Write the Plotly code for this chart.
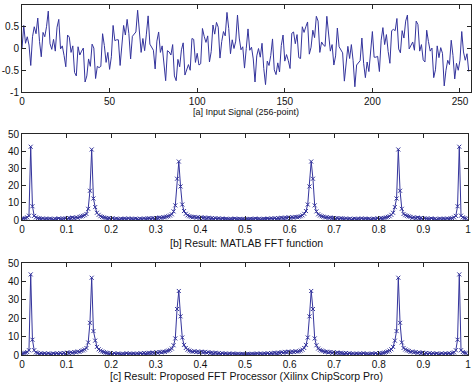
import plotly.graph_objects as go

# ---------------- data ----------------
signal = [
    0.00, 0.53, 0.12, 0.27, 0.08, -0.39, 0.27, 0.50, 0.34, 0.70,
    0.16, -0.19, 0.37, 0.27, 0.50, 0.86, 0.11, -0.02, 0.21, -0.06,
    0.49, 0.67, -0.01, 0.06, -0.16, -0.42, 0.31, 0.26, -0.09, 0.06,
    -0.55, -0.63, 0.04, -0.15, -0.06, 0.01, -0.77, -0.63, -0.24, -0.41,
    0.10, 0.01, -0.69, -0.41, -0.44, -0.41, 0.34, 0.07, -0.32, -0.09,
    -0.48, -0.19, 0.53, 0.18, 0.20, 0.20, -0.39, 0.11, 0.53, 0.31,
    0.67, 0.34, -0.24, 0.28, 0.33, 0.38, 0.88, 0.28, -0.09, 0.23,
    -0.05, 0.33, 0.75, 0.10, 0.02, -0.04, -0.47, 0.17, 0.38, -0.09,
    0.06, -0.39, -0.74, -0.05, -0.08, -0.15, 0.09, -0.63, -0.74, -0.25,
    -0.42, -0.03, 0.13, -0.61, -0.50, -0.37, -0.50, 0.23, 0.21, -0.32,
    -0.11, -0.38, -0.35, 0.46, 0.28, 0.14, 0.29, -0.31, -0.07, 0.54,
    0.33, 0.60, 0.49, -0.22, 0.16, 0.39, 0.29, 0.83, 0.46, -0.12,
    0.20, 0.00, 0.17, 0.77, 0.24, -0.03, 0.04, -0.45,
    0.00, 0.45, -0.04, 0.03, -0.24, -0.77, -0.17, 0.00, -0.20, 0.12,
    -0.46, -0.83, -0.29, -0.39, -0.16, 0.22, -0.49, -0.60, -0.33, -0.54,
    0.07, 0.31, -0.29, -0.14, -0.28, -0.46, 0.35, 0.38, 0.11, 0.32,
    -0.21, -0.23, 0.50, 0.37, 0.50, 0.61, -0.13, 0.03, 0.42, 0.25,
    0.74, 0.63, -0.09, 0.15, 0.08, 0.05, 0.74, 0.39, -0.06, 0.09,
    -0.38, -0.17, 0.47, 0.04, -0.02, -0.10, -0.75, -0.33, 0.05, -0.23,
    0.09, -0.28, -0.88, -0.38, -0.33, -0.28, 0.24, -0.34, -0.67, -0.31,
    -0.53, -0.11, 0.39, -0.20, -0.20, -0.18, -0.53, 0.19, 0.48, 0.09,
    0.32, -0.07, -0.34, 0.41, 0.44, 0.41, 0.69, -0.01, -0.10, 0.41,
    0.24, 0.63, 0.77, -0.01, 0.06, 0.15, -0.04, 0.63, 0.55, -0.06,
    0.09, -0.26, -0.31, 0.42, 0.16, -0.06, 0.01, -0.67, -0.49, 0.06,
    -0.21, 0.02, -0.11, -0.86, -0.50, -0.27, -0.37, 0.19, -0.16, -0.70,
    -0.34, -0.50, -0.27, 0.39, -0.08, -0.27, -0.12, -0.53,
]

fft_matlab = [
    0.6, 0.9, 1.1, 1.5, 2.5, 42.6, 8.0, 2.4, 1.5, 1.0,
    0.8, 0.6, 0.9, 0.5, 0.7, 0.4, 0.8, 0.6, 0.3, 0.7,
    0.5, 0.9, 0.6, 0.4, 0.8, 1.0, 0.7, 1.2, 1.0, 1.4,
    1.1, 1.5, 1.3, 1.8, 2.1, 2.4, 2.8, 3.5, 6.5, 17.0,
    41.0, 12.5, 7.5, 4.2, 3.0, 2.2, 1.8, 1.5, 1.2, 1.0,
    1.1, 0.7, 0.9, 0.5, 0.8, 0.6, 0.4, 0.7, 0.5, 0.8,
    0.6, 0.9, 0.4, 0.7, 0.5, 0.8, 0.6, 0.3, 0.7, 0.5,
    0.9, 0.6, 0.8, 1.0, 0.7, 1.1, 0.9, 1.2, 1.0, 1.4,
    1.3, 1.6, 1.5, 1.9, 2.2, 2.6, 3.3, 5.0, 8.5, 24.0,
    34.0, 19.5, 9.0, 5.2, 3.6, 2.7, 2.2, 1.9, 1.6, 1.8,
    1.4, 1.6, 1.3, 1.5, 1.2, 1.4, 1.0, 1.3, 0.9, 1.1,
    0.8, 1.0, 0.7, 0.9, 0.6, 0.8, 0.5, 0.7, 0.6, 0.4,
    0.7, 0.5, 0.8, 0.6, 0.4, 0.7, 0.5, 0.6, 0.3,
    0.6, 0.5, 0.7, 0.4, 0.6, 0.8, 0.5, 0.7, 0.4, 0.6,
    0.7, 0.5, 0.8, 0.6, 0.9, 0.7, 1.0, 0.8, 1.1, 0.9,
    1.3, 1.0, 1.4, 1.2, 1.5, 1.3, 1.6, 1.4, 1.8, 1.6,
    1.9, 2.2, 2.7, 3.6, 5.2, 9.0, 19.5, 34.0, 24.0, 8.5,
    5.0, 3.3, 2.6, 2.2, 1.9, 1.5, 1.6, 1.3, 1.4, 1.0,
    1.2, 0.9, 1.1, 0.7, 1.0, 0.8, 0.6, 0.9, 0.5, 0.7,
    0.3, 0.6, 0.8, 0.5, 0.7, 0.4, 0.9, 0.6, 0.8, 0.5,
    0.7, 0.4, 0.6, 0.8, 0.5, 0.9, 0.7, 1.1, 1.0, 1.2,
    1.5, 1.8, 2.2, 3.0, 4.2, 7.5, 12.5, 41.0, 17.0, 6.5,
    3.5, 2.8, 2.4, 2.1, 1.8, 1.3, 1.5, 1.1, 1.4, 1.0,
    1.2, 0.7, 1.0, 0.8, 0.4, 0.6, 0.9, 0.5, 0.7, 0.3,
    0.6, 0.8, 0.4, 0.7, 0.5, 0.9, 0.6, 0.8, 1.0, 1.5,
    2.4, 8.0, 42.6, 2.5, 1.5, 1.1, 0.9,
]

fft_proposed = [
    0.8, 1.0, 1.2, 1.6, 2.6, 43.8, 8.3, 2.6, 1.4, 1.1,
    0.7, 0.9, 0.6, 0.8, 0.5, 0.9, 0.6, 0.4, 0.8, 0.5,
    0.9, 0.7, 1.0, 0.6, 1.1, 0.8, 1.3, 1.0, 1.4, 1.2,
    1.6, 1.4, 1.9, 1.7, 2.2, 2.5, 3.0, 3.8, 6.8, 17.5,
    42.0, 13.0, 7.8, 4.4, 3.1, 2.4, 1.9, 1.6, 1.3, 1.1,
    0.8, 1.0, 0.6, 0.9, 0.5, 0.8, 0.6, 0.4, 0.7, 0.5,
    0.9, 0.6, 0.8, 0.5, 0.7, 0.4, 0.8, 0.6, 0.9, 0.7,
    1.1, 0.8, 1.0, 1.2, 0.9, 1.3, 1.1, 1.5, 1.2, 1.6,
    1.4, 1.8, 1.7, 2.1, 2.4, 2.8, 3.5, 5.3, 9.0, 25.0,
    34.8, 21.0, 9.5, 5.5, 3.8, 2.9, 2.4, 2.0, 1.8, 2.0,
    1.6, 1.9, 1.5, 1.8, 1.4, 1.7, 1.3, 1.5, 1.1, 1.3,
    0.9, 1.2, 0.8, 1.0, 0.7, 0.9, 0.6, 0.8, 0.5, 0.7,
    0.4, 0.8, 0.6, 0.5, 0.7, 0.4, 0.6, 0.5, 0.4,
    0.5, 0.6, 0.4, 0.7, 0.5, 0.6, 0.8, 0.4, 0.7, 0.5,
    0.8, 0.6, 0.9, 0.7, 1.0, 0.8, 1.2, 0.9, 1.3, 1.1,
    1.5, 1.3, 1.7, 1.4, 1.8, 1.5, 1.9, 1.6, 2.0, 1.8,
    2.0, 2.4, 2.9, 3.8, 5.5, 9.5, 21.0, 34.8, 25.0, 9.0,
    5.3, 3.5, 2.8, 2.4, 2.1, 1.7, 1.8, 1.4, 1.6, 1.2,
    1.5, 1.1, 1.3, 0.9, 1.2, 1.0, 0.8, 1.1, 0.7, 0.9,
    0.6, 0.8, 0.4, 0.7, 0.5, 0.8, 0.6, 0.9, 0.5, 0.7,
    0.4, 0.6, 0.8, 0.5, 0.9, 0.6, 1.0, 0.8, 1.1, 1.3,
    1.6, 1.9, 2.4, 3.1, 4.4, 7.8, 13.0, 42.0, 17.5, 6.8,
    3.8, 3.0, 2.5, 2.2, 1.7, 1.9, 1.4, 1.6, 1.2, 1.4,
    1.0, 1.3, 0.8, 1.1, 0.6, 1.0, 0.7, 0.9, 0.5, 0.8,
    0.4, 0.6, 0.9, 0.5, 0.8, 0.6, 0.9, 0.7, 1.1, 1.4,
    2.6, 8.3, 43.8, 2.6, 1.6, 1.2, 1.0,
]

N = 256
sample_index = list(range(N))
norm_freq = [k / N for k in sample_index]

sig_ticks = [0, 50, 100, 150, 200, 250]
sig_yticks = [-1, -0.5, 0, 0.5, 1]
sig_yticklabels = ["-1", "-0.5", "0", "0.5", "1"]
freq_ticks = [0, 0.1, 0.2, 0.3, 0.4, 0.5, 0.6, 0.7, 0.8, 0.9, 1]
freq_ticklabels = ["0", "0.1", "0.2", "0.3", "0.4", "0.5", "0.6", "0.7", "0.8", "0.9", "1"]
mag_ticks = [0, 10, 20, 30, 40, 50]

titles = [
    "[a] Input Signal (256-point)",
    "[b] Result: MATLAB FFT function",
    "[c] Result: Proposed FFT Processor (Xilinx ChipScorp Pro)",
]

# ---------------- figure ----------------
W, H = 474, 383
BLUE = "#34349c"
AX = "#262626"
FONT = "Liberation Sans, Arial, sans-serif"


def px_x(p):
    return p / W


def px_y(p):
    return 1 - p / H


fig = go.Figure()

fig.add_trace(go.Scatter(
    x=sample_index, y=signal, mode="lines",
    line=dict(color=BLUE, width=1), xaxis="x", yaxis="y", showlegend=False,
))
fig.add_trace(go.Scatter(
    x=norm_freq, y=fft_matlab, mode="lines+markers",
    line=dict(color=BLUE, width=1),
    marker=dict(symbol="x-thin", size=4, line=dict(color=BLUE, width=1)),
    xaxis="x2", yaxis="y2", showlegend=False,
))
fig.add_trace(go.Scatter(
    x=norm_freq, y=fft_proposed, mode="lines+markers",
    line=dict(color=BLUE, width=1),
    marker=dict(symbol="x-thin", size=4, line=dict(color=BLUE, width=1)),
    xaxis="x3", yaxis="y3", showlegend=False,
))

common = dict(
    showline=True, linecolor=AX, linewidth=1, mirror="ticks",
    ticks="inside", ticklen=4, tickcolor=AX, tickwidth=1,
    showgrid=False, zeroline=False, automargin=False,
    tickfont=dict(family=FONT, size=10, color="#111"),
)

left = px_x(22)
panels = [
    dict(x=(left, px_x(470.5)), y=(px_y(92), px_y(5))),
    dict(x=(left, px_x(468)), y=(px_y(220), px_y(134))),
    dict(x=(left, px_x(468)), y=(px_y(355), px_y(263))),
]

fig.update_layout(
    width=W, height=H,
    margin=dict(l=0, r=0, t=0, b=0, autoexpand=False),
    paper_bgcolor="white", plot_bgcolor="white",
    font=dict(family=FONT, size=10, color="#111"),
    xaxis=dict(domain=list(panels[0]["x"]), anchor="y", range=[0, 256],
               tickvals=sig_ticks, **common),
    yaxis=dict(domain=list(panels[0]["y"]), anchor="x", range=[-1, 1],
               tickvals=sig_yticks, ticktext=sig_yticklabels, **common),
    xaxis2=dict(domain=list(panels[1]["x"]), anchor="y2", range=[0, 1],
                tickvals=freq_ticks, ticktext=freq_ticklabels, **common),
    yaxis2=dict(domain=list(panels[1]["y"]), anchor="x2", range=[0, 50],
                tickvals=mag_ticks, **common),
    xaxis3=dict(domain=list(panels[2]["x"]), anchor="y3", range=[0, 1],
                tickvals=freq_ticks, ticktext=freq_ticklabels, **common),
    yaxis3=dict(domain=list(panels[2]["y"]), anchor="x3", range=[0, 50],
                tickvals=mag_ticks, **common),
)

title_y = [112, 243, 376]
title_size = [9, 10.5, 10.5]
for t, yy, sz in zip(titles, title_y, title_size):
    fig.add_annotation(
        text=t, xref="paper", yref="paper", x=px_x(246), y=px_y(yy),
        xanchor="center", yanchor="middle", showarrow=False,
        font=dict(family=FONT, size=sz, color="#111"),
    )

fig.write_html(
    "out.html",
    config={"displayModeBar": False, "staticPlot": True},
    post_script="document.body.style.margin='0px';document.body.style.overflow='hidden';",
)
